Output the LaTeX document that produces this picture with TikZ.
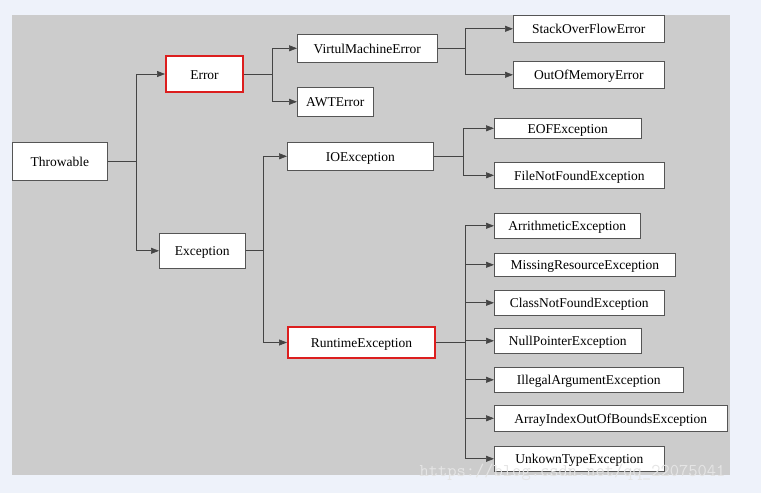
\documentclass[tikz,border=0pt]{standalone}
\usepackage{fontspec}
\setmainfont{Liberation Serif}
\usetikzlibrary{arrows.meta}
\definecolor{bg}{HTML}{EEF2FA}
\definecolor{panel}{HTML}{CCCCCC}
\definecolor{bd}{HTML}{555555}
\definecolor{ln}{HTML}{444444}
\begin{document}
\begin{tikzpicture}[x=1pt,y=-1pt,
  box/.style={draw=bd,fill=white,line width=0.6pt,inner sep=0pt,anchor=north west,font=\fontsize{13.5}{15}\selectfont,text height=10pt,text depth=0pt},
  red/.style={draw={rgb,255:red,220;green,30;blue,30},line width=2pt},
  arr/.style={draw=ln,line width=0.7pt,-{Triangle[length=8pt,width=6pt]}}]
\useasboundingbox (0,0) rectangle (761,493);
\fill[bg] (0,0) rectangle (761,493);
\fill[panel] (12,15) rectangle (730,475);
\def\B#1#2#3#4#5#6#7{\node[box,#7,minimum width=#3-#1,minimum height=#4-#2,text width=#3-#1,align=center] (#5) at (#1,#2) {#6};}
\B{12}{142}{107}{180}{thr}{Throwable}{}
\B{165}{55}{242}{91}{err}{Error}{red}
\B{159}{233}{245}{268}{exc}{Exception}{}
\B{297}{34}{437}{62}{vme}{VirtulMachineError}{}
\B{297}{87}{373}{116}{awt}{AWTError}{}
\B{513}{15}{664}{42}{so}{StackOverFlowError}{}
\B{513}{61}{664}{88}{oom}{OutOfMemoryError}{}
\B{287}{142}{433}{170}{io}{IOException}{}
\B{494}{118}{641}{138}{eof}{EOFException}{}
\B{494}{162}{664}{188}{fnf}{FileNotFoundException}{}
\B{287}{326}{434}{357}{rt}{RuntimeException}{red}
\B{494}{213}{640}{238}{r1}{ArrithmeticException}{}
\B{494}{253}{675}{276}{r2}{MissingResourceException}{}
\B{494}{290}{664}{315}{r3}{ClassNotFoundException}{}
\B{494}{328}{641}{353}{r4}{NullPointerException}{}
\B{494}{367}{683}{392}{r5}{IllegalArgumentException}{}
\B{494}{405}{727}{431}{r6}{ArrayIndexOutOfBoundsException}{}
\B{494}{446}{664}{471}{r7}{UnkownTypeException}{}
\foreach \t in {err,exc} \draw[arr] (thr.east) -- ++(29,0) |- (\t.west);
\foreach \t in {vme,awt} \draw[arr] (err.east) -- ++(28,0) |- (\t.west);
\foreach \t in {so,oom} \draw[arr] (vme.east) -- ++(28,0) |- (\t.west);
\foreach \t in {io,rt} \draw[arr] (exc.east) -- ++(18,0) |- (\t.west);
\foreach \t in {eof,fnf} \draw[arr] (io.east) -- ++(30,0) |- (\t.west);
\foreach \t in {r1,r2,r3,r4,r5,r6,r7} \draw[arr] (rt.east) -- ++(29,0) |- (\t.west);
\node[anchor=west,text=white!80!gray,font=\fontsize{18}{20}\ttfamily] (wm) at (416,472) {https://blog.csdn.net/qq\_22075041};
\end{tikzpicture}
\end{document}
